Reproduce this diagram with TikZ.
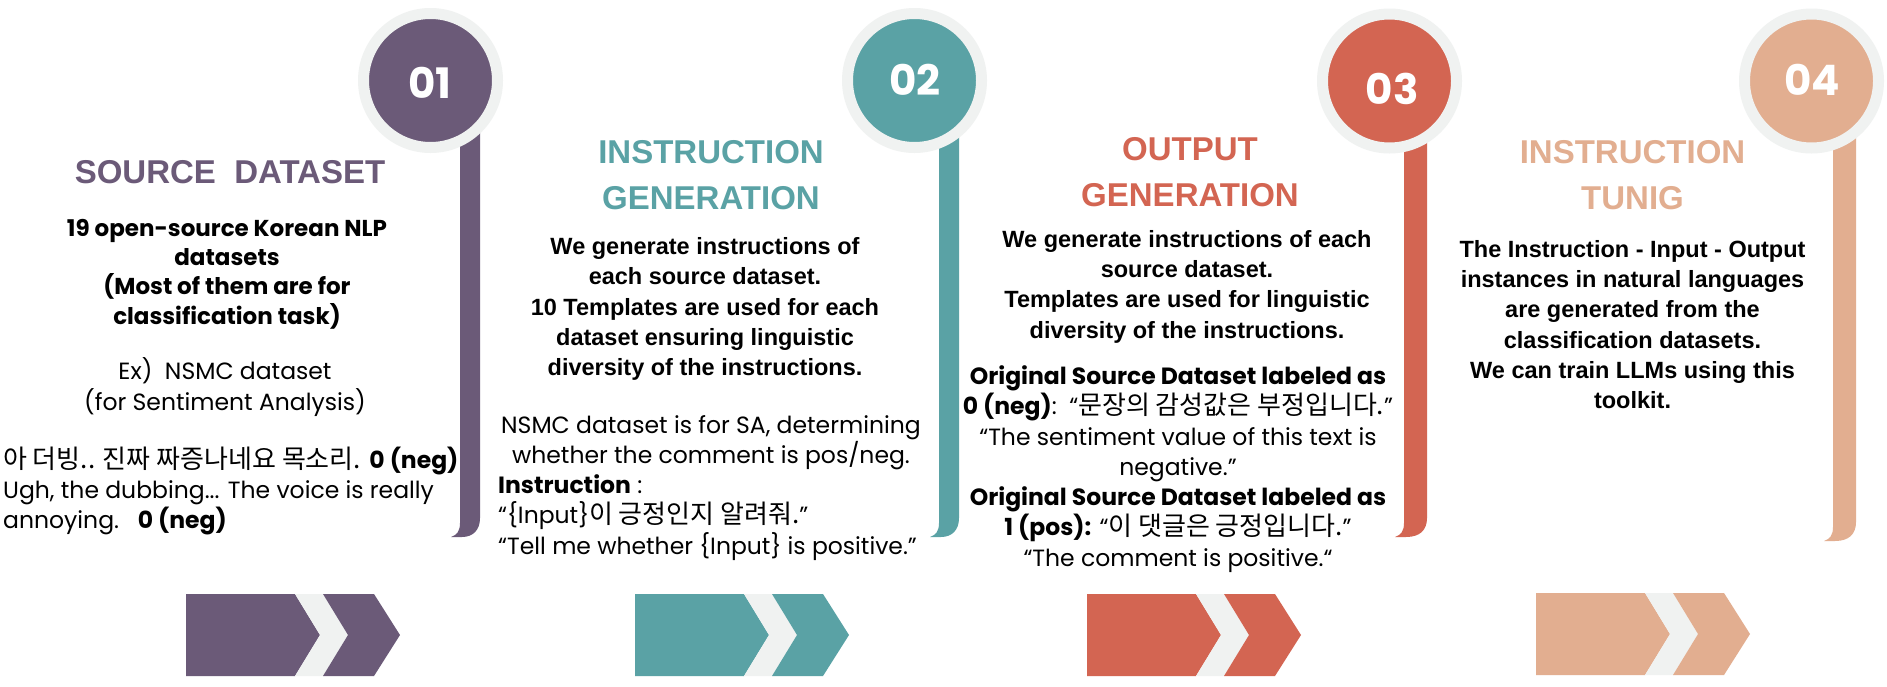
\documentclass[tikz,border=0pt]{standalone}
\usepackage{fontspec}
\setmainfont{Liberation Sans}
\newfontfamily\dmf{Poppins}
\newfontfamily\intf{Liberation Sans}
\newfontfamily\numf{Poppins}
\newfontfamily\kr{Noto Sans CJK KR}
\newcommand{\kotext}[1]{{\kr\fontsize{26}{30.3}\selectfont #1}}
\definecolor{cpurple}{HTML}{6B5A78}
\definecolor{cteal}{HTML}{5AA2A5}
\definecolor{cred}{HTML}{D36552}
\definecolor{cpeach}{HTML}{E2AE90}
\definecolor{ringgray}{HTML}{F0F2F1}
\newcommand{\stembar}[4]{\fill[#1] (#2,110) -- (#2,{#4-14}) .. controls (#2,{#4-6}) and ({#2-3},{#4-2}) .. ({#2-9},#4) -- ({#2+2},#4) .. controls ({#3-7},#4) and (#3,{#4-7}) .. (#3,{#4-19}) -- (#3,110) -- cycle;}
\begin{document}
\begin{tikzpicture}[x=1pt,y=-1pt,
  disc/.style={circle, draw=ringgray, line width=11pt, minimum size=134pt, inner sep=0pt},
  num/.style={font=\numf\bfseries\fontsize{42}{50}\selectfont, text=white, inner sep=0pt},
  ttl/.style={font=\intf\bfseries\fontsize{33}{46}\selectfont, align=center, inner sep=0pt},
  bodyb/.style={font=\intf\bfseries\fontsize{23.5}{30.3}\selectfont, align=center, inner sep=0pt},
  bodyd/.style={font=\dmf\fontsize{23.5}{30.3}\selectfont, align=center, inner sep=0pt},
  bodydb/.style={font=\dmf\bfseries\fontsize{23}{29.3}\selectfont, align=center, inner sep=0pt}]
\useasboundingbox (0,0) rectangle (1887,686);
\fill[white] (0,0) rectangle (1887,686);
% stems
\stembar{cpurple}{460}{480}{537}
\stembar{cteal}{939}{959}{537}
\stembar{cred}{1404}{1427}{537}
\stembar{cpeach}{1833}{1856}{541}
% discs
\node[disc, fill=cpurple] (c1) at (430.5,80.5) {};
\node[disc, fill=cteal] (c2) at (914.5,80.5) {};
\node[disc, fill=cred] (c3) at (1389.5,81) {};
\node[disc, fill=cpeach] (c4) at (1811.5,81) {};
\node[num] (n1) at (430,83) {01};
\node[num] (n2) at (915,80) {02};
\node[num] (n3) at (1392,89) {03};
\node[num] (n4) at (1812,80) {04};
% chevrons
\foreach \x/\y/\c in {186/594/cpurple, 635/594/cteal, 1087/594/cred, 1536/593/cpeach}{
  \begin{scope}[xshift=\x pt, yshift=-\y pt]
    \fill[\c] (0,0) -- (109,0) -- (134,41) -- (109,82) -- (0,82) -- cycle;
    \fill[ringgray] (109,0) -- (137,0) -- (162,41) -- (137,82) -- (109,82) -- (134,41) -- cycle;
    \fill[\c] (137,0) -- (188,0) -- (214,41) -- (188,82) -- (137,82) -- (162,41) -- cycle;
  \end{scope}
}
% column 1
\node[ttl, text=cpurple] (t1) at (230,172) {SOURCE\ \ DATASET};
\node[bodydb] (a1) at (227,274) {19 open-source Korean NLP\\datasets\\(Most of them are for\\classification task)};
\node[bodyd] (b1) at (225,387) {Ex)\ \ NSMC dataset\\(for Sentiment Analysis)};
\node[bodyd, align=left, anchor=west] (d1) at (3,491) {\kotext{아 더빙.. 진짜 짜증나네요 목소리.} \textbf{0 (neg)}\\Ugh, the dubbing... The voice is really\\annoying.\ \ \ \textbf{0 (neg)}};
% column 2
\node[ttl, text=cteal] (t2) at (711,175) {INSTRUCTION\\GENERATION};
\node[bodyb] (a2) at (705,309) {We generate instructions of\\each source dataset.\\10 Templates are used for each\\dataset ensuring linguistic\\diversity of the instructions.};
\node[bodyd] (b2) at (711,443) {NSMC dataset is for SA, determining\\whether the comment is pos/neg.};
\node[bodyd, align=left, anchor=west] (d2) at (498,517.5) {\textbf{Instruction} :\\“\{Input\}\kotext{이 긍정인지 알려줘.}”\\“Tell me whether \{Input\} is positive.”};
% column 3
\node[ttl, text=cred] (t3) at (1190,172.5) {OUTPUT\\GENERATION};
\node[bodyb] (a3) at (1187,286.5) {We generate instructions of each\\source dataset.\\Templates are used for linguistic\\diversity of the instructions.};
\node[bodyd] (b3) at (1178,469) {\textbf{Original Source Dataset labeled as}\\\textbf{0 (neg)}:\ \ “\kotext{문장의 감성값은 부정입니다.}”\\“The sentiment value of this text is\\negative.”\\\textbf{Original Source Dataset labeled as}\\\textbf{1 (pos):} “\kotext{이 댓글은 긍정입니다.}”\\“The comment is positive.“};
% column 4
\node[ttl, text=cpeach] (t4) at (1632.5,175) {INSTRUCTION\\TUNIG};
\node[bodyb] (a4) at (1632.5,324.5) {The Instruction - Input - Output\\instances in natural languages\\are generated from the\\classification datasets.\\We can train LLMs using this\\toolkit.};
\end{tikzpicture}
\end{document}
